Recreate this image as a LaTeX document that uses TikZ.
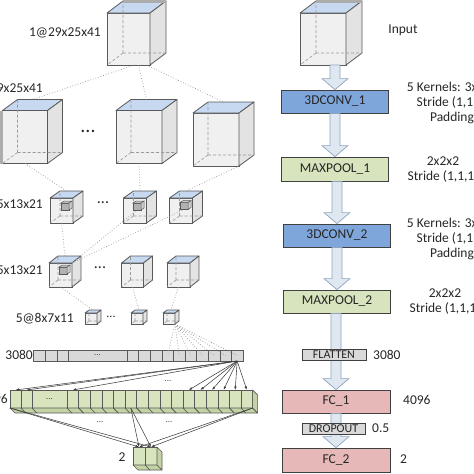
\documentclass[tikz,border=0pt]{standalone}
\usepackage{fontspec}
\setmainfont{Carlito}
\usepackage{xcolor}
\usetikzlibrary{calc,positioning,arrows.meta}
\definecolor{edgecol}{HTML}{595959}
\definecolor{frontcol}{HTML}{F0F0F0}
\definecolor{sidecol}{HTML}{E3E3E3}
\definecolor{topcol}{HTML}{C6D9F0}
\definecolor{txtcol}{HTML}{262626}
\definecolor{boxedge}{HTML}{404040}
\definecolor{convcol}{HTML}{7EA6DA}
\definecolor{poolcol}{HTML}{D7E4BD}
\definecolor{fccol}{HTML}{E6B9B8}
\definecolor{tagcol}{HTML}{D9D9D9}
\definecolor{greenbot}{HTML}{C3D3A4}
\definecolor{flowfill}{HTML}{DFE7F1}
\definecolor{flowedge}{HTML}{8EA3BF}
\tikzset{
  lbl/.style={inner sep=0pt, text=txtcol},
  cubefront/.style={draw=edgecol, fill=frontcol, line width=0.8pt, inner sep=0pt, outer sep=0pt},
  cubetop/.style={draw=edgecol, fill=topcol, line width=0.8pt, line join=round},
  cubeside/.style={draw=edgecol, fill=sidecol, line width=0.8pt, line join=round},
  hidden/.style={draw=gray!80, dash pattern=on 3pt off 2pt, line width=0.6pt},
  corefront/.style={draw=edgecol, fill=gray!60, line width=0.5pt, inner sep=0pt, outer sep=0pt, minimum width=8pt, minimum height=7pt},
  coreside/.style={draw=edgecol, fill=gray!40, line width=0.5pt},
  link/.style={draw=gray!85, dotted, line width=0.7pt},
  fcarrow/.style={-{Latex[length=3.5pt,width=2.5pt]}, draw=black!75, line width=0.55pt},
  fcell/.style={draw=edgecol, fill=tagcol, line width=0.6pt, inner sep=0pt, outer sep=0pt, minimum height=11pt, text=gray!60!black, font=\fontsize{9}{9}\selectfont},
  gcell/.style={draw=edgecol, fill=poolcol, line width=0.6pt, inner sep=0pt, outer sep=0pt, minimum height=18pt, text=gray!60!black, font=\fontsize{9}{9}\selectfont},
  gbottom/.style={draw=edgecol, fill=greenbot, line width=0.6pt, line join=round},
  box/.style={draw=boxedge, line width=0.8pt, minimum width=107pt, minimum height=23pt, inner sep=0pt, text=txtcol},
  tag/.style={draw=boxedge, fill=tagcol, line width=0.8pt, inner sep=0pt, minimum width=64pt, minimum height=11pt, text=txtcol, font=\fontsize{12}{12}\selectfont},
  hollow/.style={draw=flowedge, fill=flowfill, line width=0.7pt, line join=miter},
  stack/.style={draw=gray!65, line width=3pt}
}
% cube: name, x, y, width, height, depth x, depth y
\newcommand{\cube}[7]{%
  \node[cubefront, minimum width=#4pt, minimum height=#5pt] (#1) at (#2,#3) {};
  \filldraw[cubetop] (#1.north west) -- ++(#6,#7) -- ++(#4,0) -- (#1.north east) -- cycle;
  \filldraw[cubeside] (#1.north east) -- ++(#6,#7) -- ++(0,#5) -- (#1.south east) -- cycle;
  \draw[hidden] ([shift={(#6,#7)}]#1.south west) -- ++(0,-#5)
    ([shift={(#6,#7)}]#1.south west) -- ++(#4,0)
    ([shift={(#6,#7)}]#1.south west) -- (#1.south west);
  \coordinate (#1-t) at ([shift={(#6/2,#7)}]#1.north);
}
% small dark cube inside a feature map
\newcommand{\core}[3]{%
  \node[corefront] (#1) at (#2,#3) {};
  \filldraw[coreside] (#1.north west) -- ++(3,-2) -- ++(8,0) -- (#1.north east) -- cycle;
  \filldraw[coreside] (#1.north east) -- ++(3,-2) -- ++(0,7) -- (#1.south east) -- cycle;
}
% hollow block arrow between two boxes
\newcommand{\flow}[2]{%
  \filldraw[hollow] ($(#1.south -| #2.north)+(-5,0)$) -- ($(#2.north)+(-5,-11)$) -- ++(-8,0)
    -- (#2.north) -- ($(#2.north)+(13,-11)$) -- ++(-8,0) -- ($(#1.south -| #2.north)+(5,0)$) -- cycle;
}
\begin{document}
\begin{tikzpicture}[x=1pt, y=-1pt, every node/.append style={font=\fontsize{13.5}{15}\selectfont}]
  \useasboundingbox (0,0) rectangle (474,474);
  \clip (0,0) rectangle (474,474);

  % Left: feature maps
  \cube{in1}{128.5}{39}{43}{52}{16}{-12}
  \draw[stack] ([shift={(16,-12)}]in1.north west) -- ++(43,0);
  \cube{a1}{25}{137}{45}{53}{15}{-11}
  \draw[stack] ([xshift=-1.5pt]a1.north west) -- ([xshift=-1.5pt]a1.south west);
  \cube{a2}{139}{137}{46}{53}{15}{-11}
  \cube{a3}{216}{139.5}{46}{53}{15}{-11}
  \cube{b1}{61.5}{210.5}{23}{25}{10}{-7}
  \cube{b2}{135}{210.5}{23}{25}{10}{-7}
  \cube{b3}{181}{210.5}{23}{25}{10}{-7}
  \core{k1}{65}{206.5}
  \core{k2}{137}{206.5}
  \core{k3}{184}{206}
  \cube{c1}{60.5}{275}{23}{24}{9}{-7}
  \cube{c2}{132.5}{275}{22}{24}{9}{-7}
  \cube{c3}{178.5}{275}{23}{24}{9}{-7}
  \core{k4}{63}{270.5}
  \cube{t1}{91}{318.5}{12}{11}{4}{-3}
  \cube{t2}{137}{318.5}{12}{11}{4}{-3}
  \cube{t3}{169}{318.5}{12}{11}{4}{-3}

  \node[lbl, anchor=east] (l1) at (101,33) {1@29x25x41};
  \node[lbl, anchor=east] (l2) at (43,89) {5@29x25x41};
  \node[lbl, anchor=east] (l3) at (43,205) {5@15x13x21};
  \node[lbl, anchor=east] (l4) at (43,271) {5@15x13x21};
  \node[lbl, anchor=east] (l5) at (74,319) {5@8x7x11};
  \node[lbl, anchor=east] (l6) at (33,355) {3080};
  \node[lbl, anchor=east] (l7) at (8,399) {4096};
  \node[lbl] (l8) at (122,457) {2};

  \node[lbl, font=\fontsize{20}{20}\selectfont] (d1) at (88,131) {...};
  \node[lbl, font=\fontsize{16}{16}\selectfont] (d2) at (103,203) {...};
  \node[lbl, font=\fontsize{16}{16}\selectfont] (d3) at (100,268) {...};
  \node[lbl, font=\fontsize{12}{12}\selectfont] (d4) at (111,317) {...};

  % dotted links between maps
  \draw[link] ([xshift=6pt]in1.south) -- (a1-t);
  \draw[link] ([xshift=10pt]in1.south) -- (a2-t);
  \draw[link] ([xshift=18pt]in1.south) -- (a3-t);
  \draw[link] (a1.south) -- (b1-t);
  \draw[link] (a2.south) -- (b2-t);
  \draw[link] (a3.south east) -- (b3-t);
  \draw[link] (b1.south) -- (c1-t);
  \draw[link] (c1.north east) -- (k2.south);
  \draw[link] (c1.north east) -- (k3.south);
  \draw[link] (c1.south) -- (t1-t);
  \draw[link] (c2.south) -- (t2-t);
  \draw[link] (c3.south) -- (t3-t);

  % flatten vector
  \node[fcell, minimum width=12pt] (f1) at (39,355.5) {};
  \node[fcell, minimum width=12pt] (f2) at (51,355.5) {};
  \node[fcell, minimum width=11pt] (f3) at (62.5,355.5) {};
  \node[fcell, minimum width=59pt] (f4) at (97.5,355.5) {...};
  \foreach \k in {5,...,14}
    \node[fcell, minimum width=11.6pt] (f\k) at ({127+11.6*(\k-5)+5.8},355.5) {};
  \foreach \k in {8,...,14}
    \draw[link] (t3.south east) -- (f\k.center);

  % fully connected layer
  \node[gcell, minimum width=11pt] (g1) at (15.5,399) {};
  \node[gcell, minimum width=11pt] (g2) at (26.5,399) {};
  \node[gcell, minimum width=35pt] (g3) at (49.5,399) {...};
  \foreach \k in {4,...,19}
    \node[gcell, minimum width=11.6pt] (g\k) at ({67+11.6*(\k-4)+5.8},399) {};
  \foreach \k in {1,...,19}
    \filldraw[gbottom] (g\k.south west) -- (g\k.south east) -- ++(5,5) -- ($(g\k.south west)+(5,5)$) -- cycle;
  \filldraw[gbottom] (g19.north east) -- ++(5,5) -- ++(0,18) -- (g19.south east) -- cycle;
  \foreach \k in {1,2,4,14,15,16,17,18,19}
    \draw[fcarrow] (f14.south) -- (g\k.north);
  \node[lbl, text=gray!60!black, font=\fontsize{9}{9}\selectfont] (d5) at (168,381) {...};

  % output
  \node[gcell, minimum width=12pt] (o1) at (139,456) {};
  \node[gcell, minimum width=12pt] (o2) at (151,456) {};
  \foreach \o in {o1,o2}
    \filldraw[gbottom] (\o.south west) -- (\o.south east) -- ++(5,5) -- ($(\o.south west)+(5,5)$) -- cycle;
  \filldraw[gbottom] (o2.north east) -- ++(5,5) -- ++(0,18) -- (o2.south east) -- cycle;
  \foreach \s in {g1.south west, g9.south, g19.south east}
    \foreach \o in {o1,o2}
      \draw[fcarrow] (\s) -- (\o.north);
  \node[lbl, text=gray!60!black, font=\fontsize{9}{9}\selectfont] (d6) at (100,422) {...};
  \node[lbl, text=gray!60!black, font=\fontsize{9}{9}\selectfont] (d7) at (169,422) {...};

  % Right: layer flow
  \cube{in2}{323}{39}{46}{52}{16}{-12}
  \draw[stack] ([shift={(16,-12)}]in2.north west) -- ++(46,0);
  \node[box, fill=convcol] (conv1) at (335,101.5) {3DCONV\_1};
  \node[box, fill=poolcol, minimum height=24pt] (pool1) at (335,169) {MAXPOOL\_1};
  \node[box, fill=convcol] (conv2) at (337,235.5) {3DCONV\_2};
  \node[box, fill=poolcol] (pool2) at (337,301.5) {MAXPOOL\_2};
  \node[box, fill=fccol, minimum width=108pt] (fc1) at (336,401.5) {FC\_1};
  \node[box, fill=fccol, minimum width=108pt, minimum height=24pt] (fc2) at (336,460) {FC\_2};
  \flow{in2}{conv1}
  \flow{conv1}{pool1}
  \flow{pool1}{conv2}
  \flow{conv2}{pool2}
  \flow{pool2}{fc1}
  \flow{fc1}{fc2}
  \node[tag] (flat) at (334,354.5) {FLATTEN};
  \node[tag, minimum width=63pt] (drop) at (333.5,428.5) {DROPOUT};

  % Right: parameters
  \node[lbl] (r0) at (403,30) {Input};
  \node[lbl, align=center] (r1) at (452,102.5) {5 Kernels: 3x3x3\\Stride (1,1,1)\\Padding};
  \node[lbl, align=center] (r2) at (443,169.5) {2x2x2\\Stride (1,1,1)};
  \node[lbl, align=center] (r3) at (452,238.5) {5 Kernels: 3x3x3\\Stride (1,1,1)\\Padding};
  \node[lbl, align=center] (r4) at (445,301.5) {2x2x2\\Stride (1,1,1)};
  \node[lbl, anchor=west] (r5) at (373,354.5) {3080};
  \node[lbl, anchor=west] (r6) at (403,400) {4096};
  \node[lbl, anchor=west] (r7) at (372,428) {0.5};
  \node[lbl, anchor=west] (r8) at (400,459) {2};
\end{tikzpicture}
\end{document}
